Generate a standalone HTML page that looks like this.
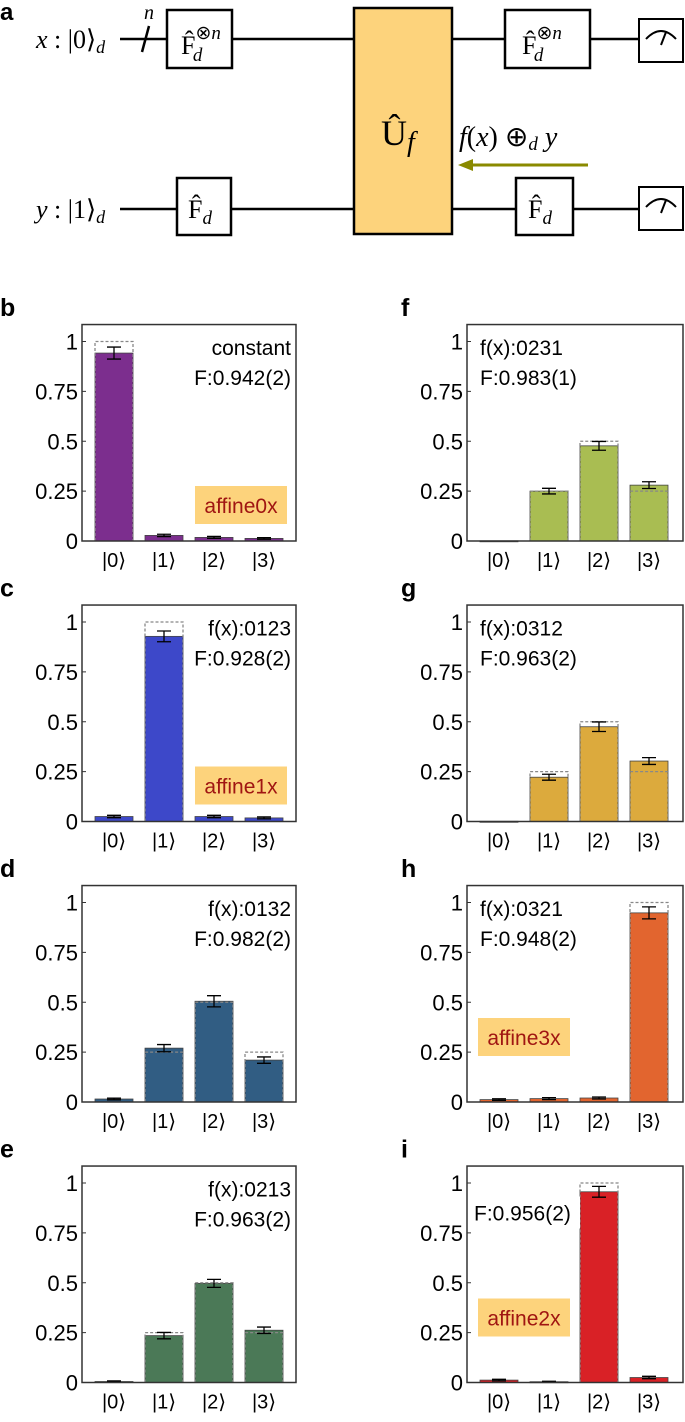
<!DOCTYPE html>
<html><head><meta charset="utf-8">
<style>
html,body{margin:0;padding:0;background:#fff;}
svg{display:block;font-family:"Liberation Sans",sans-serif;}
.serif{font-family:"Liberation Serif",serif;font-style:italic;}
</style></head>
<body>
<svg id="fig" width="685" height="1422" viewBox="0 0 685 1422" xmlns="http://www.w3.org/2000/svg">
<g id="circuit" stroke="#000" stroke-width="2.5" fill="none">
  <text x="0" y="20" font-size="24" font-weight="bold" fill="#000" stroke="none">a</text>
  <text x="36" y="48" font-size="26" fill="#000" stroke="none" font-family="Liberation Serif,serif"><tspan font-style="italic">x</tspan> : |0⟩<tspan font-style="italic" font-size="18" dy="5">d</tspan></text>
  <text x="36" y="218" font-size="26" fill="#000" stroke="none" font-family="Liberation Serif,serif"><tspan font-style="italic">y</tspan> : |1⟩<tspan font-style="italic" font-size="18" dy="5">d</tspan></text>
  <line x1="120" y1="39" x2="354" y2="39"/>
  <line x1="142" y1="52" x2="149" y2="26"/>
  <text x="144" y="19" font-size="20" fill="#000" stroke="none" class="serif">n</text>
  <rect x="167" y="10" width="65" height="58" fill="#fff"/>
  <text x="181" y="54" font-size="26" fill="#000" stroke="none" font-family="Liberation Serif,serif">F̂<tspan font-size="19" dy="-15">⊗</tspan><tspan font-size="19" class="serif">n</tspan><tspan font-size="19" class="serif" dx="-28" dy="22">d</tspan></text>
  <line x1="120" y1="209" x2="354" y2="209"/>
  <rect x="177" y="178" width="54" height="57" fill="#fff"/>
  <text x="188" y="218" font-size="26" fill="#000" stroke="none" font-family="Liberation Serif,serif">F̂<tspan font-size="19" class="serif" dy="6">d</tspan></text>
  <line x1="452" y1="39" x2="638" y2="39"/>
  <line x1="452" y1="209" x2="638" y2="209"/>
  <rect x="354" y="8" width="98" height="226" fill="#fdd37c"/>
  <text x="381" y="145" font-size="36" fill="#000" stroke="none" font-family="Liberation Serif,serif">Û<tspan class="serif" font-size="28" dy="6">f</tspan></text>
  <rect x="505" y="10" width="85" height="58" fill="#fff"/>
  <text x="522" y="54" font-size="26" fill="#000" stroke="none" font-family="Liberation Serif,serif">F̂<tspan font-size="19" dy="-15">⊗</tspan><tspan font-size="19" class="serif">n</tspan><tspan font-size="19" class="serif" dx="-28" dy="22">d</tspan></text>
  <rect x="516" y="178" width="57" height="57" fill="#fff"/>
  <text x="528" y="218" font-size="26" fill="#000" stroke="none" font-family="Liberation Serif,serif">F̂<tspan font-size="19" class="serif" dy="6">d</tspan></text>
  <g stroke-width="2">
    <rect x="639" y="19" width="44" height="43" fill="#fff"/>
    <path d="M646 39 Q661 23 676 39"/><line x1="661" y1="45" x2="666" y2="32"/>
  </g>
  <g stroke-width="2">
    <rect x="639" y="187" width="44" height="43" fill="#fff"/>
    <path d="M646 207 Q661 191 676 207"/><line x1="661" y1="213" x2="666" y2="200"/>
  </g>
  <text x="459" y="146" font-size="28" fill="#000" stroke="none" font-family="Liberation Serif,serif"><tspan font-style="italic">f</tspan>(<tspan font-style="italic">x</tspan>) ⊕<tspan font-style="italic" font-size="19" dy="4">d</tspan> <tspan font-style="italic" dy="-4">y</tspan></text>
  <line x1="588" y1="165" x2="470" y2="165" stroke="#8a8a00" stroke-width="3"/>
  <polygon points="458,165 473,159 473,171" fill="#8a8a00" stroke="none"/>
</g>
<g id="charts"></g>
</svg>
<script>
// data
const categories = ["|0⟩","|1⟩","|2⟩","|3⟩"];
const yTicks = [0,0.25,0.5,0.75,1];
const yTickLabels = ["0","0.25","0.5","0.75","1"];
const panelLetters = ["b","c","d","e","f","g","h","i"];
const valsB = [0.942,0.028,0.018,0.013];
const valsC = [0.025,0.928,0.025,0.018];
const valsD = [0.015,0.270,0.505,0.210];
const valsE = [0.005,0.235,0.497,0.262];
const valsF = [0.001,0.250,0.477,0.280];
const valsG = [0.001,0.222,0.475,0.303];
const valsH = [0.012,0.017,0.020,0.948];
const valsI = [0.012,0.004,0.956,0.025];
const errB = [0.03,0.006,0.005,0.004];
const errC = [0.006,0.027,0.006,0.005];
const errD = [0.004,0.018,0.028,0.016];
const errE = [0.003,0.016,0.02,0.016];
const errF = [0.0,0.014,0.022,0.017];
const errG = [0.0,0.015,0.024,0.017];
const errH = [0.004,0.005,0.005,0.03];
const errI = [0.004,0.002,0.027,0.006];
const idealB = [1,0,0,0];
const idealC = [0,1,0,0];
const idealMix = [0,0.25,0.5,0.25];
const idealH = [0,0,0,1];
const idealI = [0,0,1,0];
const funcLabels = ["constant","f(x):0123","f(x):0132","f(x):0213","f(x):0231","f(x):0312","f(x):0321",""];
const fidLabels = ["F:0.942(2)","F:0.928(2)","F:0.982(2)","F:0.963(2)","F:0.983(1)","F:0.963(2)","F:0.948(2)","F:0.956(2)"];
const affineLabels = ["affine0x","affine1x","","","","","affine3x","affine2x"];

const values = [valsB,valsC,valsD,valsE,valsF,valsG,valsH,valsI];
const errors = [errB,errC,errD,errE,errF,errG,errH,errI];
const ideals = [idealB,idealC,idealMix,idealMix,idealMix,idealMix,idealH,idealI];
const colors = ["#7c2e8e","#3d48c9","#315d83","#4b7957","#a9bd52","#dcaa3d","#e2652f","#d92126"];

const NS="http://www.w3.org/2000/svg";
const root=document.getElementById('charts');
function mk(tag,attrs,parent){const e=document.createElementNS(NS,tag);for(const k in attrs)e.setAttribute(k,attrs[k]);parent.appendChild(e);return e;}

for(let p=0;p<8;p++){
  const col=p<4?0:1,row=p%4;
  const left=col?467:82, right=col?683:296;
  const zero=541+row*280.5;
  const scale=199.5;
  const yS=v=>zero-v*scale;
  const xS=i=>left+32+i*50;
  const g=mk('g',{},root);
  
  
  const lt=mk('text',{x:col?401:0,y:zero-225,'font-size':25,'font-weight':'bold'},g);
  lt.textContent=panelLetters[p];
  
  
  const top=yS(1.085);
  if(affineLabels[p]){
    const ax=col?478:195;
    const ayy=col?zero-84:zero-55;
    const r=mk('rect',{x:ax,y:ayy,width:92,height:38,fill:'#fdd37c'},g);
    
    
    const t=mk('text',{x:ax+46,y:ayy+27,'font-size':21,'text-anchor':'middle',fill:'#a01612'},g);
    t.textContent=affineLabels[p];
    
    
  }
  for(let i=0;i<4;i++){
    const v=values[p][i],x=xS(i);
    const b=mk('rect',{x:x-19,y:yS(v),width:38,height:Math.max(v*scale,1),fill:colors[p],stroke:'#444','stroke-width':0.8},g);
    
    
    const id=ideals[p][i];
    if(id>0){
      const d=mk('path',{d:`M${x-19} ${zero} V${yS(id)} H${x+19} V${zero}`,fill:'none',stroke:'#888','stroke-width':1.3,'stroke-dasharray':'3,2'},g);
      
      
    }
    const e=errors[p][i];
    if(e>0){
      const eb=mk('path',{d:`M${x-7} ${yS(v+e)} H${x+7} M${x} ${yS(v+e)} V${yS(v-e)} M${x-7} ${yS(v-e)} H${x+7}`,stroke:'#000','stroke-width':1.3,fill:'none'},g);
      
      
    }
    const xl=mk('text',{x:x,y:zero+26,'font-size':20,'text-anchor':'middle'},g);
    xl.textContent=categories[i];
    
    
  }
  for(let k=0;k<yTicks.length;k++){
    const y=yS(yTicks[k]);
    const tk=mk('line',{x1:left,x2:left+4,y1:y,y2:y,stroke:'#333','stroke-width':1},g);
    
    
    const tl=mk('text',{x:left-4,y:y+8,'font-size':22,'text-anchor':'end'},g);
    tl.textContent=yTickLabels[k];
    
    
  }
  const fr=mk('rect',{x:left,y:top,width:right-left,height:zero-top,fill:'none',stroke:'#333','stroke-width':1.5},g);
  
  
  const tx=col?480:291, anchor=col?'start':'end';
  if(funcLabels[p]){
    const t1=mk('text',{x:tx,y:zero-186,'font-size':21,'text-anchor':anchor},g);
    t1.textContent=funcLabels[p];
    
    
    const t2=mk('text',{x:tx,y:zero-156,'font-size':21,'text-anchor':anchor},g);
    t2.textContent=fidLabels[p];
    
    
  } else {
    const bg=mk('rect',{x:472,y:zero-186,width:108,height:32,fill:'#fff'},g);
    
    
    const t2=mk('text',{x:474,y:zero-162,'font-size':21},g);
    t2.textContent=fidLabels[p];
    
    
  }
}
</script>
</body></html>
